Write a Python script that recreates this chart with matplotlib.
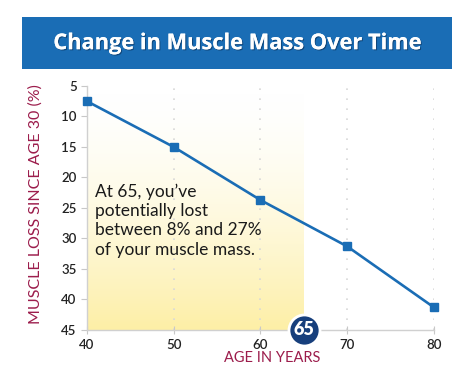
import numpy as np
import matplotlib
matplotlib.use('Agg')
import matplotlib.pyplot as plt
from matplotlib.patches import Rectangle
from matplotlib.colors import LinearSegmentedColormap
import matplotlib.patheffects as pe

# Data
ages = [40, 50, 60, 70, 80]
muscle_loss = [7.5, 15, 23.7, 31.3, 41.3]
y_ticks = [5, 10, 15, 20, 25, 30, 35, 40, 45]
x_ticks = [40, 50, 60, 70, 80]
highlight_age = 65

title = 'Change in Muscle Mass Over Time'
note = 'At 65, you\u2019ve\npotentially lost\nbetween 8% and 27%\nof your muscle mass.'

# Colours
BLUE = '#1a6db5'
NAVY = '#173f7c'
CRIMSON = '#9c1d4c'
YELLOW = '#fdefa6'

plt.rcParams['font.family'] = ['Lato', 'DejaVu Sans']

fig = plt.figure(figsize=(4.74, 3.80), dpi=100)
ax = fig.add_axes([0.1835, 0.1316, 0.7321, 0.6421])

# Title banner
fig.patches.append(Rectangle((0.0464, 0.8184), 0.907, 0.137, transform=fig.transFigure,
                             facecolor=BLUE, edgecolor='none', zorder=0))
fig.text(0.5, 0.885, title, ha='center', va='center', color='white',
         fontsize=15.7, fontweight='bold', family=['Open Sans', 'DejaVu Sans'],
         path_effects=[pe.withSimplePatchShadow(offset=(0.8, -0.8), shadow_rgbFace='#0b2f55', alpha=0.6),
                       pe.Normal()])

# Yellow gradient up to age 65, fading out towards the top
grad = (np.linspace(0, 1, 200) ** 1.6).reshape(-1, 1)
cmap = LinearSegmentedColormap.from_list('fade', ['white', YELLOW])
ax.imshow(grad, cmap=cmap, extent=(ages[0], highlight_age, y_ticks[-1], y_ticks[0]),
          aspect='auto', origin='upper', zorder=0, interpolation='bilinear')

# Dotted vertical guides
for x in x_ticks[1:]:
    ax.axvline(x, color='#d8d8d8', linestyle=(0, (1, 5)), linewidth=1.2, zorder=1)

# The line
ax.plot(ages, muscle_loss, color=BLUE, linewidth=1.9, marker='s', markersize=6,
        markerfacecolor=BLUE, markeredgecolor=BLUE, zorder=3, clip_on=False)

ax.set_xlim(x_ticks[0], x_ticks[-1])
ax.set_ylim(y_ticks[-1], y_ticks[0])
ax.set_xticks(x_ticks)
ax.set_yticks(y_ticks)
ax.tick_params(colors='#c8c8c8', labelcolor='#222222', labelsize=9.5, length=4, width=0.8)
ax.tick_params(axis='x', direction='inout', length=6)
for lbl in ax.get_xticklabels() + ax.get_yticklabels():
    lbl.set_fontweight('semibold')
for s in ['top', 'right']:
    ax.spines[s].set_visible(False)
for s in ['left', 'bottom']:
    ax.spines[s].set_color('#d0d0d0')
    ax.spines[s].set_linewidth(1.0)

ax.set_ylabel('MUSCLE LOSS SINCE AGE 30 (%)', color=CRIMSON, fontsize=11.5)
ax.yaxis.set_label_coords(-0.128, 0.518)
ax.set_xlabel('AGE IN YEARS', color=CRIMSON, fontsize=10.5)
ax.xaxis.set_label_coords(0.533, -0.085)

# Note text
ax.text(40.9, 21.0, note, ha='left', va='top', fontsize=12.5, color='#1a1a1a',
        linespacing=1.25, zorder=4)

# 65 badge on the axis
ax.scatter([highlight_age], [y_ticks[-1]], s=500, color=NAVY, edgecolor='white',
           linewidth=2, zorder=5, clip_on=False)
ax.text(highlight_age, y_ticks[-1], str(highlight_age), ha='center', va='center',
        color='white', fontsize=13, fontweight='heavy', zorder=6, clip_on=False)

fig.savefig('out.png', dpi=100)
